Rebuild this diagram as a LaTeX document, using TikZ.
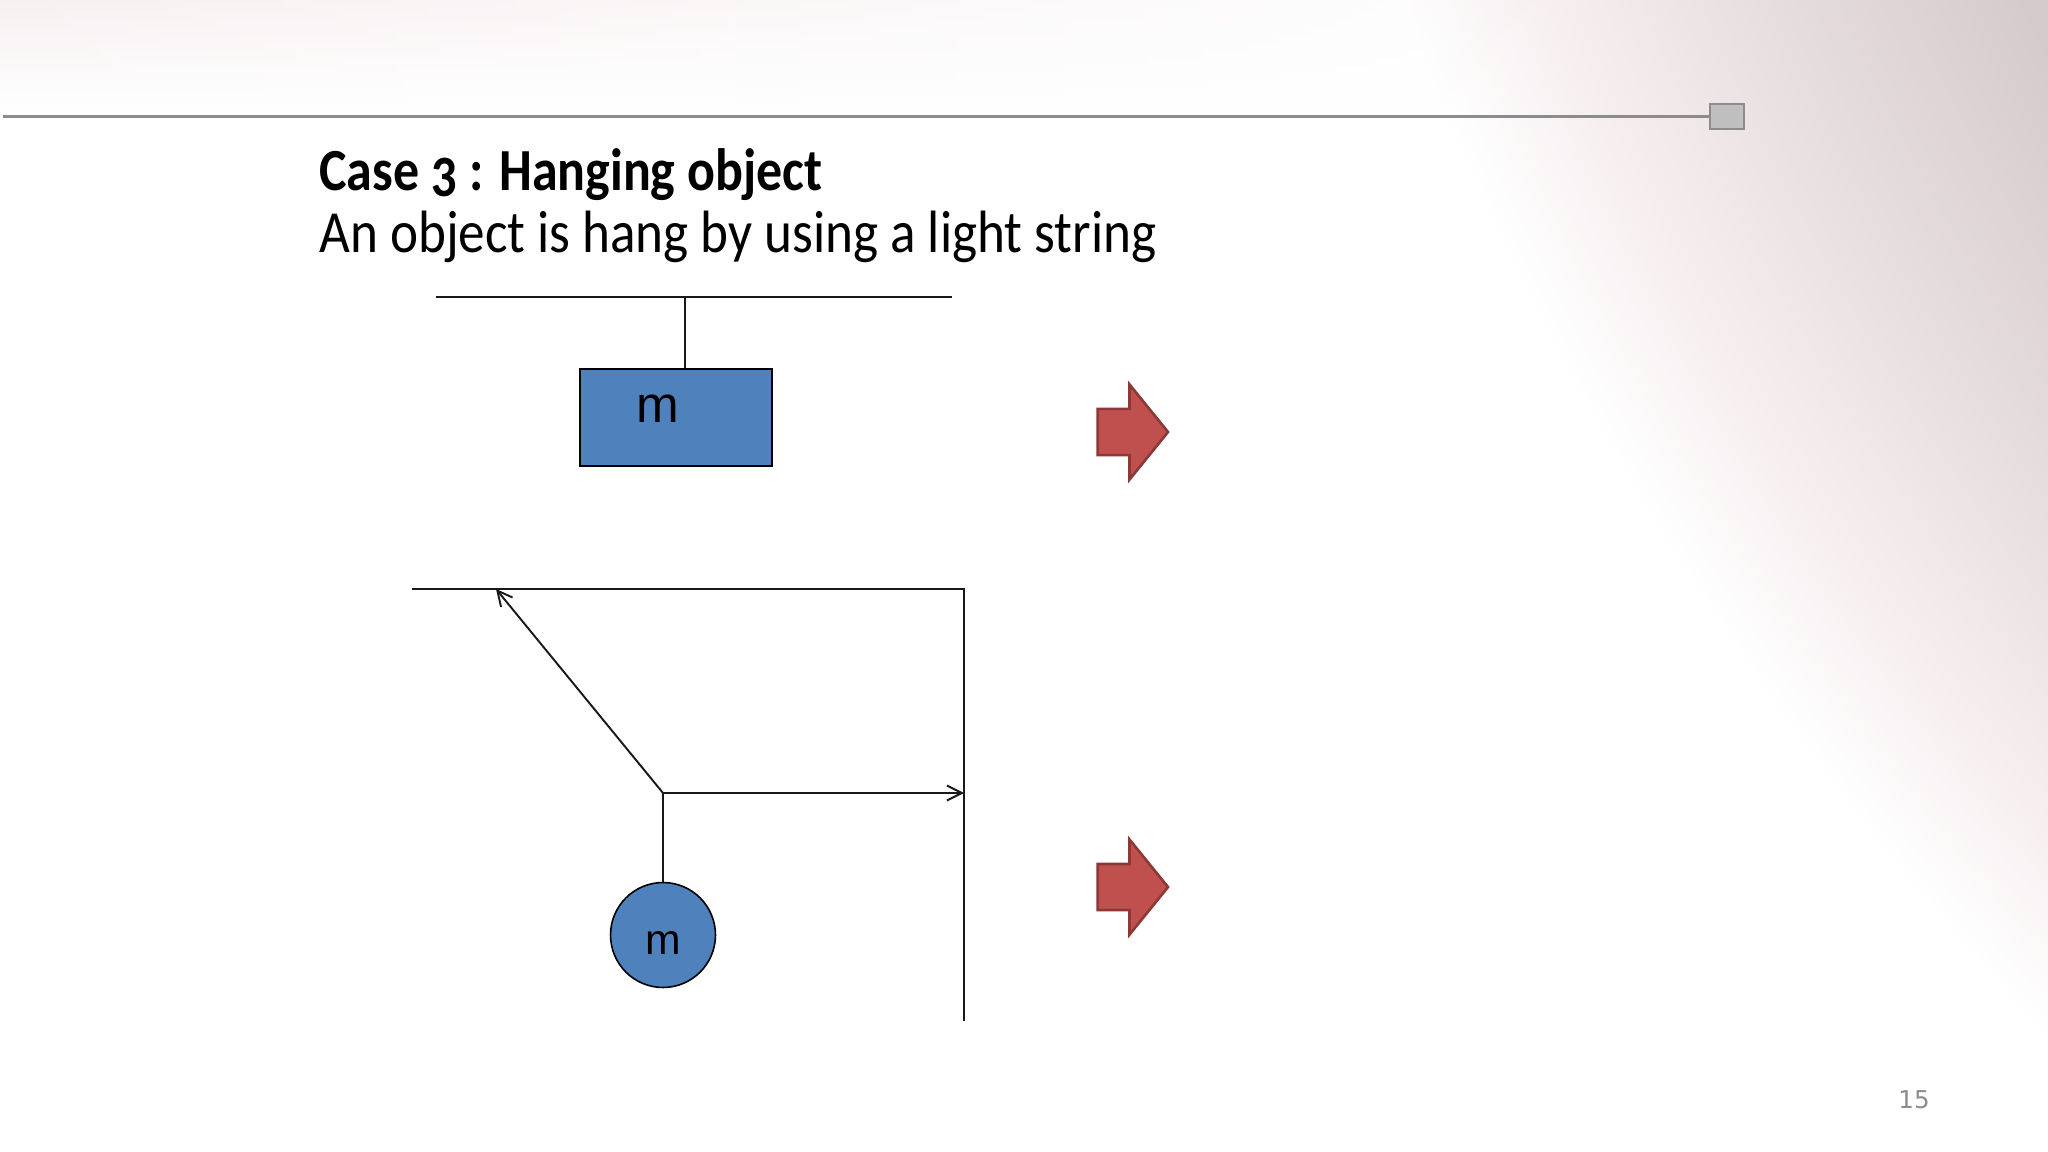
\documentclass[tikz,border=0pt]{standalone}
\usepackage{fontspec}
\setmainfont{Carlito}[Numbers=OldStyle]
\newfontfamily\titlefont{Carlito}[FakeStretch=0.87, Numbers=OldStyle]
\newfontfamily\subtitlefont{Carlito}[FakeStretch=0.89]
\newfontfamily\labelfont{Liberation Sans}
\newfontfamily\pagefont{DejaVu Sans}
\usetikzlibrary{positioning}
\usetikzlibrary{positioning,arrows.meta,shapes.arrows,fadings}

\definecolor{bgPale}{HTML}{F7F0F1}
\definecolor{bgLight}{HTML}{ECE3E4}
\definecolor{bgMid}{HTML}{DED4D6}
\definecolor{bgDark}{HTML}{CEC3C5}
\definecolor{massBlue}{HTML}{4F81BD}
\definecolor{arrowRed}{HTML}{C0504D}
\definecolor{arrowEdge}{HTML}{8C3836}
\definecolor{ruleGray}{HTML}{8C8C8C}

\pgfdeclareradialshading{slideGlow}{\pgfpoint{0bp}{0bp}}{color(0bp)=(bgDark); color(17.2bp)=(bgDark); color(18.6bp)=(bgMid); color(19.9bp)=(bgLight); color(20.9bp)=(bgPale); color(21.8bp)=(white); color(50bp)=(white)}
\tikzfading[name=fadeRight, left color=transparent!0, right color=transparent!100]

\begin{document}
\begin{tikzpicture}[x=0.46875pt, y=-0.46875pt]
\tikzset{
    titleStyle/.style={anchor=base west, inner sep=0pt, font=\titlefont\fontsize{28}{34}\selectfont\bfseries},
    subtitleStyle/.style={anchor=base west, inner sep=0pt, font=\subtitlefont\fontsize{28}{34}\selectfont},
    tabStyle/.style={rectangle, draw=ruleGray, fill=gray!50, line width=0.6pt, minimum width=15.9pt, minimum height=11.7pt, inner sep=0pt},
    ruleStyle/.style={line width=1.5pt, ruleGray},
    blockStyle/.style={rectangle, draw=black, fill=massBlue, line width=0.9pt, minimum width=90pt, minimum height=45.5pt, inner sep=0pt},
    ballStyle/.style={circle, draw=black, fill=massBlue, line width=0.75pt, minimum size=49.2pt, inner sep=0pt, text height=17.9pt, text depth=0pt, font=\labelfont\fontsize{20}{24}\selectfont},
    massLabel/.style={inner sep=0pt, font=\labelfont\fontsize{24}{28}\selectfont},
    bigArrow/.style={single arrow, draw=arrowEdge, fill=arrowRed, line width=1.2pt, minimum height=33pt, inner xsep=0pt, inner ysep=10.2pt, single arrow head extend=11.5pt, single arrow tip angle=102},
    wallLine/.style={line width=0.9pt, black!90},
    tensionArrow/.style={-{Straight Barb[length=7pt, width=7pt]}, line width=0.9pt, black!90},
    pageStyle/.style={anchor=base west, inner sep=0pt, font=\pagefont\fontsize{11.5}{14}\selectfont, text=ruleGray}
}

\useasboundingbox (0,0) rectangle (2048,1152);

% slide background
\begin{scope}
\clip (0,0) rectangle (2048,1152);
\shade[shading=slideGlow] (736,-4710) rectangle (7936,2490);
\shade[top color=bgPale, bottom color=white, path fading=fadeRight] (0,0) rectangle (1600,115);
\end{scope}

\node[tabStyle] (tabMark) at (1727,116.5) {};
\coordinate (ruleStart) at (3,116.5);
\draw[ruleStyle] (ruleStart) -- (tabMark.west);

\node[titleStyle] (title) at (319,191) {Case 3 : Hanging object};
\node[subtitleStyle] (subtitle) at ([yshift=-28.6pt]title.base west) {An object is hang by using a light string};


% hanging block
\coordinate (ceilLeft) at (436,297);
\coordinate (ceilRight) at (952,297);
\coordinate (hook) at (685,297);
\node[blockStyle] (block) at (676,417.5) {};
\node[massLabel] (blockLabel) at (658,409) {m};

\draw[wallLine] (ceilLeft) -- (ceilRight);
\draw[wallLine] (hook) -- (hook |- block.north);


% hanging ball
\coordinate (roofLeft) at (412,589);
\coordinate (roofCorner) at (964,589);
\coordinate (wallFoot) at (964,1021);
\coordinate (roofPoint) at (496,589);
\coordinate (knot) at (663,793);
\node[ballStyle] (ball) at (663,935) {m};

\draw[wallLine] (roofLeft) -- (roofCorner) -- (wallFoot);
\draw[tensionArrow] (knot) -- (roofPoint);
\draw[tensionArrow] (knot) -- (knot -| roofCorner);
\draw[wallLine] (knot) -- (ball.north);


\node[bigArrow] (arrowTop) at (1123.5,432) {};
\node[bigArrow] (arrowBottom) at ([yshift=-213.3pt]arrowTop.center) {};

\node[pageStyle] (pageNum) at (1898,1108) {15};

\end{tikzpicture}
\end{document}
